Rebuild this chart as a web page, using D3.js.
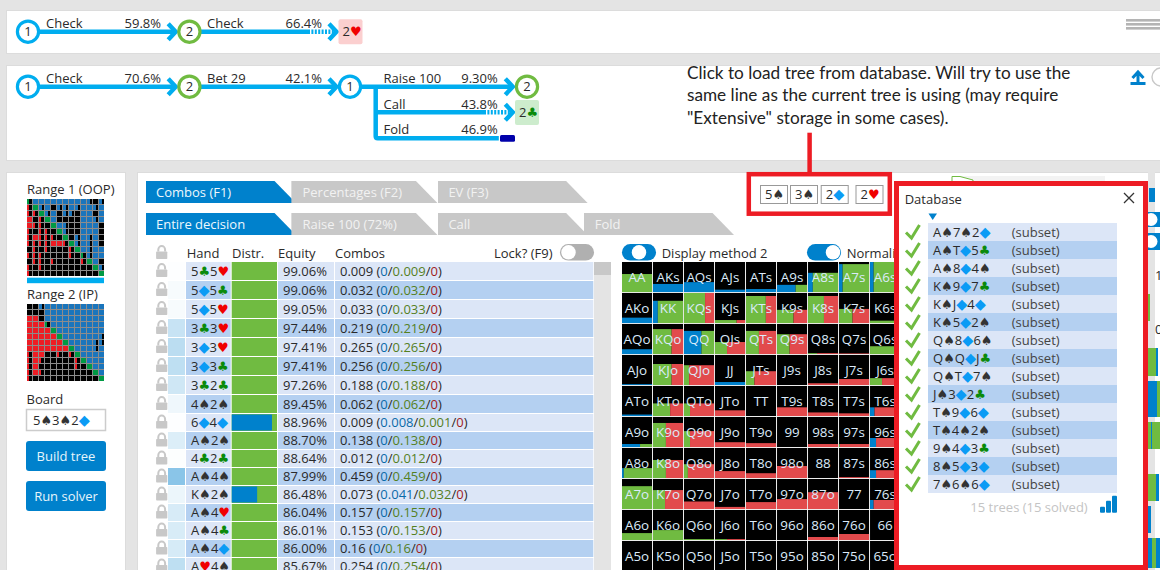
<!DOCTYPE html>
<html><head><meta charset="utf-8">
<style>html,body{margin:0;padding:0;background:#e4e4e4;overflow:hidden}svg{display:block}text{font-family:"Open Sans","Noto Sans",sans-serif;fill:#2a2a2a}</style>
<script src="https://cdn.jsdelivr.net/npm/d3@7/dist/d3.min.js"></script>
</head><body><svg id="c" width="1160" height="570"></svg>
<script>
// ---------- data ----------
const handNames=["5c5h","5d5c","5d5h","3c3h","3d3h","3d3c","3c2c","4s2s","6d4d","As2s","4c2c","As4s","Ks2s","As4h","As4c","As4d","Ah4s"];
const equities=["99.06%","99.06%","99.05%","97.44%","97.41%","97.41%","97.26%","89.45%","88.96%","88.70%","88.64%","87.99%","86.48%","86.04%","86.01%","86.00%","85.67%"];
const comboTotal=[0.009,0.032,0.033,0.219,0.265,0.256,0.188,0.062,0.009,0.138,0.012,0.459,0.073,0.157,0.153,0.16,0.254];
const comboRaise=[0,0,0,0,0,0,0,0,0.008,0,0,0,0.041,0,0,0,0];
const comboCall=[0.009,0.032,0.033,0.219,0.265,0.256,0.188,0.062,0.001,0.138,0.012,0.459,0.032,0.157,0.153,0.16,0.254];
const comboFold=[0,0,0,0,0,0,0,0,0,0,0,0,0,0,0,0,0];
const dbBoards=["As7s2d","AsTd5c","As8d4s","Ks9d7c","KsJd4d","Ks5d2s","Qs8d6s","QsQdJc","QsTd7s","Js3d2c","Ts9d6d","Ts4s2s","9s4d3c","8s5d3d","7s6s6d"];
const cellLabels=[
["AA","AKs","AQs","AJs","ATs","A9s","A8s","A7s","A6s"],
["AKo","KK","KQs","KJs","KTs","K9s","K8s","K7s","K6s"],
["AQo","KQo","QQ","QJs","QTs","Q9s","Q8s","Q7s","Q6s"],
["AJo","KJo","QJo","JJ","JTs","J9s","J8s","J7s","J6s"],
["ATo","KTo","QTo","JTo","TT","T9s","T8s","T7s","T6s"],
["A9o","K9o","Q9o","J9o","T9o","99","98s","97s","96s"],
["A8o","K8o","Q8o","J8o","T8o","98o","88","87s","86s"],
["A7o","K7o","Q7o","J7o","T7o","97o","87o","77","76s"],
["A6o","K6o","Q6o","J6o","T6o","96o","86o","76o","66"],
["A5o","K5o","Q5o","J5o","T5o","95o","85o","75o","65o"]];
const cellWeight=[
[.6,.27,.33,.08,.1,.24,.64,.93,1],
[.18,.74,1,.1,.9,.44,.9,.47,.08],
[.16,.83,.77,.4,.77,.66,.03,.02,.26],
[.03,.7,.66,.1,.46,0,.06,.2,.23],
[.05,.42,.42,.19,0,.29,.12,.09,.29],
[.1,.8,.53,.16,.13,0,.1,.1,.3],
[.33,.6,.46,.23,.16,.4,0,.03,.26],
[.76,.63,.25,.07,.23,.33,.56,0,.3],
[.23,.33,.03,.03,0,0,.1,.2,0],
[0,0,0,0,0,0,0,0,0]];
const cellBlueShare=[
[0,1,1,1,1,.62,.16,.12,.12],
[1,.16,0,0,0,0,0,0,0],
[1,0,.58,0,0,0,0,0,0],
[1,0,0,1,0,0,0,0,0],
[1,0,0,0,0,0,0,0,.15],
[.6,0,0,0,0,0,0,0,.2],
[.06,0,0,0,0,0,0,0,.2],
[0,0,0,0,0,0,0,0,.12],
[0,0,0,0,0,0,0,0,0],
[0,0,0,0,0,0,0,0,0]];
const cellGreenShare=[
[1,0,0,0,0,.38,.84,.88,.88],
[0,.84,.7,.72,.66,.55,.53,.45,1],
[0,.62,.42,.4,.43,.42,.3,0,1],
[0,.62,.17,0,.28,0,0,0,.4],
[0,.57,.2,0,0,0,0,0,0],
[.4,.43,.2,0,0,0,0,.03,0],
[.94,.43,.13,0,0,0,0,0,0],
[1,.4,0,0,0,0,0,0,0],
[1,1,1,.4,0,0,0,0,0],
[0,0,0,0,0,0,0,0,0]];
const rangeOne=["GbbbbbbbbbBkB","RgBbkBBbBbbBb","RRgBbkBBkbbkb","rkRgbkkkkbbBb","rRRkgbBkkbbbk","RkRRkgBkkbbbk","RrRRRkgkBbBbk","RRRRrrRgBbBbk","kRkRkkkRgbBbb","RRRkkkkRkGBbb","kRRkRkkkkRgbk","RkRkkkkkkkkgB","Rkkkkkkkkkkkg"];
const rangeTwo=["kkBbbbbbbbbbb","kkkbbbbbbbbbb","rrkbbbbbbbbbb","rrrGbbbbbbbbb","rrrrgbbbbbbbb","rrrrrgbbbbbbB","rrrrrrgbbbbBB","rrrrrrrgbbbBb","RrrkkRkRgbbbb","RrRkkkkkRgbbb","RrkkkkkkRkgbb","RrRkkkkkkkkgb","Rkkkkkkkkkkkg"];
const tabsTop=["Combos (F1)","Percentages (F2)","EV (F3)"];
const tabsBottom=["Entire decision","Raise 100 (72%)","Call","Fold"];
const noteLines=["Click to load tree from database. Will try to use the","same line as the current tree is using (may require","\"Extensive\" storage in some cases)."];
const headerCards=["5s","3s","2d","2h"];

// ---------- style ----------
const BLUE="#0081cc",GREEN="#70bb41",RED="#e24a4c",CYAN="#00adef",NGREEN="#70bb41",BORDER="#dcdcdc",ALERT="#ed1c24";
const SUIT={s:["\u2660","#333"],c:["\u2663","#0a8a0a"],h:["\u2665","#f00000"],d:["\u25C6","#0a9bf5"]};
const svg=d3.select("#c");
function rect(p,x,y,w,h,f,o={}){const r=p.append("rect").attr("x",x).attr("y",y).attr("width",w).attr("height",h).attr("fill",f);for(const k in o)r.attr(k,o[k]);return r;}
function txt(p,x,y,s,o={}){const t=p.append("text").attr("x",x).attr("y",y).text(s).attr("font-size",o.size||13);if(o.fill)t.style("fill",o.fill);if(o.anchor)t.attr("text-anchor",o.anchor);if(o.family)t.style("font-family",o.family);return t;}
function cards(p,x,y,s,size=13,anchor){
  const t=p.append("text").attr("x",x).attr("y",y).attr("font-size",size);
  if(anchor)t.attr("text-anchor",anchor);
  for(let i=0;i<s.length;i+=2){
    t.append("tspan").text(s[i]);
    t.append("tspan").text(SUIT[s[i+1]][0]).style("fill",SUIT[s[i+1]][1]).style("font-family","DejaVu Sans").attr("font-size",s[i+1]==="d"?size+1.5:size);
  }
  return t;
}

// ---------- panels ----------
rect(svg,6.5,10.5,1160,43,"#fff",{stroke:BORDER});
rect(svg,6.5,65.5,1160,95,"#fff",{stroke:BORDER});
rect(svg,6.5,172.5,119,400,"#fff",{stroke:BORDER});
rect(svg,137.5,172.5,1030,400,"#fff",{stroke:BORDER});

// ---------- tree ----------
const tree=svg.append("g");
function seg(x0,x1,y,dashFrom){
  const l=(a,b)=>tree.append("line").attr("x1",a).attr("x2",b).attr("y1",y).attr("y2",y).attr("stroke",CYAN).attr("stroke-width",4.5);
  if(dashFrom){l(x0,dashFrom);l(dashFrom,x1-1).attr("stroke-dasharray","2 1.4");}else l(x0,x1);
}
function head(x,y){tree.append("path").attr("d",d3.line()([[x-9.5,y-8],[x-2,y],[x-9.5,y+8]])).attr("fill","none").attr("stroke",CYAN).attr("stroke-width",4.4);}
function node(x,y,n){const c=n===1?CYAN:NGREEN;tree.append("circle").attr("cx",x).attr("cy",y).attr("r",10.6).attr("fill","#fff").attr("stroke",c).attr("stroke-width",3.2);txt(tree,x,y+4.5,String(n),{anchor:"middle"});}
function boardCard(x,y,s,f){rect(tree,x,y,24,25,f,{rx:2});cards(tree,x+4,y+17,s,13);}
const y1=31.7,y2=86.7,callY=112.3,foldY=138.3;
seg(40,175,y1);head(177.7,y1);
seg(201,308,y1);seg(308,336,y1,308);head(338.5,y1);
txt(tree,46,28,"Check");txt(tree,161,28,"59.8%",{anchor:"end"});
txt(tree,207,28,"Check");txt(tree,322,28,"66.4%",{anchor:"end"});
boardCard(338.5,19.3,"2h","#fbcfcf");
node(28,y1,1);node(189.4,y1,2);
seg(40,175,y2);head(177.7,y2);
seg(201,336,y2);head(338.5,y2);
seg(362,512,y2);head(514.8,y2);
tree.append("path").attr("d",`M375.7 ${y2}V${foldY-2}q0 2 2 2H498.8`).attr("fill","none").attr("stroke",CYAN).attr("stroke-width",4.5);
seg(375,484,callY);seg(484,512,callY,484);head(514.8,callY);
rect(tree,500,135,15,6.8,"#0000aa",{rx:1.5});
txt(tree,46,83,"Check");txt(tree,161,83,"70.6%",{anchor:"end"});
txt(tree,207,83,"Bet 29");txt(tree,322,83,"42.1%",{anchor:"end"});
txt(tree,383.5,83,"Raise 100");txt(tree,497.7,83,"9.30%",{anchor:"end"});
txt(tree,383.5,109,"Call");txt(tree,497.7,109,"43.8%",{anchor:"end"});
txt(tree,383.5,134,"Fold");txt(tree,497.7,134,"46.9%",{anchor:"end"});
boardCard(515,100,"2c","#cdeccd");
node(28,y2,1);node(189.4,y2,2);node(350,y2,1);node(527,y2,2);

// hamburger, upload icon
[19,23,27].forEach(y=>rect(svg,1126,y,34,2.6,"#b4b4b4"));
svg.append("path").attr("d","M1130.5 83.5H1145.5M1138 82V73M1132.5 78L1138 72L1143.5 78").attr("fill","none").attr("stroke",BLUE).attr("stroke-width",3);
svg.append("circle").attr("cx",1161).attr("cy",77).attr("r",9).attr("fill","#fff").attr("stroke","#c8c8c8").attr("stroke-width",1.4);

// note
noteLines.forEach((s,i)=>txt(svg,687,78.5+i*22.6,s,{size:17.2,family:"Lato",fill:"#222"}));

// ---------- left panel ----------
txt(svg,27,194,"Range 1 (OOP)");
txt(svg,27,299,"Range 2 (IP)");
const rangeColors={b:"#1a75bc",r:"#ed1c24",g:"#009a44",k:"#000"};
function rangeGrid(rows,top){
  const g=svg.append("g");
  const x=d3.scaleBand().domain(d3.range(13)).range([27,105]);
  const y=d3.scaleBand().domain(d3.range(13)).range([top,top+78]);
  rect(g,27,top,77,77,"#8c8c8c");
  rows.forEach((row,r)=>[...row].forEach((ch,c)=>{
    const w=x.bandwidth()-1,h=y.bandwidth()-1,l=ch.toLowerCase();
    rect(g,x(c),y(r),w,h,ch===l?rangeColors[l]:"#000");
    if(ch!==l)rect(g,x(c),y(r),w*(l==="b"?.6:.4),h,rangeColors[l]);
  }));
}
rangeGrid(rangeOne,199);
rect(svg,27,277.7,77,5.5,CYAN);
rangeGrid(rangeTwo,304);
txt(svg,26.5,404,"Board");
rect(svg,26.5,409.5,79,21,"#fff",{stroke:"#ccc","stroke-width":1.5});
cards(svg,33,424.5,"5s3s2d",13);
[["Build tree",441],["Run solver",481]].forEach(([s,y])=>{rect(svg,26,y,80,30,BLUE,{rx:3});txt(svg,66,y+20,s,{anchor:"middle",fill:"#e6f5fb"});});

// ---------- tabs ----------
function tabs(names,y,h){
  const starts=[146,291.4,438,584],rights=[296,437.4,587.6,734];
  names.forEach((s,i)=>{
    const l=starts[i],r=rights[i],f=i===0?BLUE:"#c8c8c8";
    svg.append("path").attr("d",d3.line()([[l,y],[r-21.5,y],[r,y+h],[l,y+h]])).attr("fill",f);
    txt(svg,[156,302.5,448.4,594.7][i],y+16,s,{fill:i===0?"#eef8fd":"#f2f2f2"});
  });
}
tabs(tabsTop,181,22);
tabs(tabsBottom,213,22);

// ---------- table ----------
const tb=svg.append("g");
["Hand","Distr.","Equity","Combos"].forEach((s,i)=>txt(tb,[186.7,232,278,335][i],258,s));
txt(tb,494,258,"Lock? (F9)");
function toggle(x,on,knob){
  rect(svg,x,244,34,16.6,on?BLUE:"#b0b0b0",{rx:8.3});
  svg.append("circle").attr("cx",x+knob).attr("cy",252.3).attr("r",7.2).attr("fill","#fff");
}
toggle(560,false,8.5);
const rowTops=handNames.map((_,i)=>i<=8?262+19*i:414+18*(i-8));
const heat=d3.scaleLinear().domain([0,1]).range([0,1]);
function lock(g,cx,cy){
  g.append("path").attr("d",`M${cx-3.4} ${cy-1}v-2a3.4 3.4 0 0 1 6.8 0v2`).attr("fill","none").attr("stroke","#c8c8c8").attr("stroke-width",2);
  rect(g,cx-5.6,cy-1,11.2,7.5,"#c8c8c8",{rx:.8});
}
lock(tb,161.7,252.5);
handNames.forEach((h,i)=>{
  const y=rowTops[i],ht=(i<8?19:18)-1,dark=i%2===1,bg=dark?"#b4d0f1":"#dce6f7",cy=y+ht/2+4.6;
  lock(tb,161.7,y+ht/2-.5);
  rect(tb,168,y,17,ht,BLUE,{"fill-opacity":heat(comboTotal[i])});
  rect(tb,186,y,44.7,ht,bg);
  cards(tb,191,cy,h);
  const dx=d3.scaleLinear().domain([0,comboTotal[i]]).range([0,45.3]);
  rect(tb,231.7,y,45.3,ht,GREEN);
  if(comboRaise[i])rect(tb,231.7,y+.5,dx(comboRaise[i]),ht-1,BLUE);
  rect(tb,278,y,56,ht,bg);txt(tb,283,cy,equities[i]);
  rect(tb,335,y,258.3,ht,bg);
  const t=txt(tb,340,cy,comboTotal[i]+" (");
  t.append("tspan").text(comboRaise[i]).style("fill","#0a6aa8");t.append("tspan").text("/");
  t.append("tspan").text(comboCall[i]).style("fill","#55801f");t.append("tspan").text("/");
  t.append("tspan").text(comboFold[i]).style("fill","#a01c1c");t.append("tspan").text(")");
});
rect(svg,594,262,17,308,"#e4e4e4");
rect(svg,594,262,17,13,"#c8c8c8");

// ---------- matrix ----------
toggle(622,true,17);
txt(svg,661.7,258,"Display method 2");
toggle(807,true,26);
txt(svg,846.7,258,"Normalize");
const mx=d3.scaleBand().domain(d3.range(9)).range([622,622+9*30.9]).paddingInner(.03);
const my=d3.scaleBand().domain(d3.range(10)).range([262,262+10*30.9]).paddingInner(.03);
const m=svg.append("g");
cellLabels.forEach((row,r)=>row.forEach((lab,c)=>{
  const x=mx(c),y=my(r),w=mx.bandwidth(),h=my.bandwidth();
  rect(m,x,y,w,h,"#000");
  const H=cellWeight[r][c]*h,b=cellBlueShare[r][c],g=cellGreenShare[r][c],rd=1-b-g;
  if(H>0){
    const sx=d3.scaleLinear().domain([0,1]).range([x,x+w]);
    rect(m,sx(0),y+h-H,b*w,H,BLUE);
    rect(m,sx(b),y+h-H,g*w,H,GREEN);
    rect(m,sx(b+g),y+h-H,rd*w,H,RED);
  }
  txt(m,x+w/2,y+h/2+4.7,lab,{anchor:"middle",fill:"#dcebfa",size:13.4});
}));

// ---------- right edge leftovers ----------
rect(svg,1148,172,7,398,"#e4e4e4");
rect(svg,1149,188,6,14,BLUE);
[[212,15],[233,17]].forEach(([y,h])=>{rect(svg,1148,y,12,h,BLUE);svg.append("circle").attr("cx",1151).attr("cy",y+h/2).attr("r",6.5).attr("fill","#fff");});
txt(svg,1155,280,"1");txt(svg,1155,334,"0");
const strips=[[294,27,1148,2,GREEN],[348,28,1148,8,GREEN],[348,28,1156,2,BLUE],[381,36,1148,9,BLUE],[381,36,1157,3,GREEN],[422,27,1148,12,GREEN],[422,27,1151,1,BLUE],[474,27,1148,9,GREEN],[474,27,1156,3,BLUE],[506,27,1148,3,BLUE],[538,30,1148,4,BLUE],[538,30,1152,4,GREEN],[538,30,1156,4,BLUE]];
strips.forEach(([y,h,x,w,f])=>rect(svg,x,y,w,h,f));

// ---------- database overlay ----------
rect(svg,952,176,153,6,"#f3f3f3");
svg.append("path").attr("d","M952 182V176.5H960L973 180V182").attr("fill","#fff").attr("stroke",GREEN);
rect(svg,896.5,183.5,249,384,"#fff",{stroke:ALERT,"stroke-width":5});
txt(svg,904.7,203.5,"Database");
svg.append("path").attr("d","M1124 193L1134 203M1134 193L1124 203").attr("stroke","#333").attr("stroke-width",1.3);
svg.append("path").attr("d","M928.5 213.5H937L932.7 220Z").attr("fill",BLUE);
const dy=d3.scaleBand().domain(d3.range(15)).range([223,493]);
dbBoards.forEach((b,i)=>{
  const y=dy(i),h=dy.bandwidth();
  rect(svg,928,y,189,h,i%2?"#b4d0f1":"#dce6f7");
  cards(svg,933,y+13.5,b);
  txt(svg,1011.7,y+13.5,"(subset)",{fill:"#444"});
  svg.append("path").attr("d",d3.line()([[906,y+9.5],[911.5,y+15],[919.5,y+2]])).attr("fill","none").attr("stroke",GREEN).attr("stroke-width",3);
});
txt(svg,1087.7,512,"15 trees (15 solved)",{anchor:"end",fill:"#c4c4c4"});
[[1100,6],[1106,12],[1112,17]].forEach(([x,h])=>rect(svg,x,512.7-h,5,h,BLUE,{rx:1}));

// ---------- callout ----------
svg.append("line").attr("x1",809.6).attr("x2",809.6).attr("y1",132.7).attr("y2",172).attr("stroke",ALERT).attr("stroke-width",4.5);
rect(svg,748.8,174.2,141,39.5,"#fff",{stroke:ALERT,"stroke-width":4.5});
[[760,"5s"],[790,"3s"],[820.7,"2d"],[855.5,"2h"]].forEach(([x,s])=>{
  rect(svg,x+.5,185.5,27,18,"#fff",{stroke:"#999"});
  cards(svg,x+5,199,s,13);
});
</script></body></html>
